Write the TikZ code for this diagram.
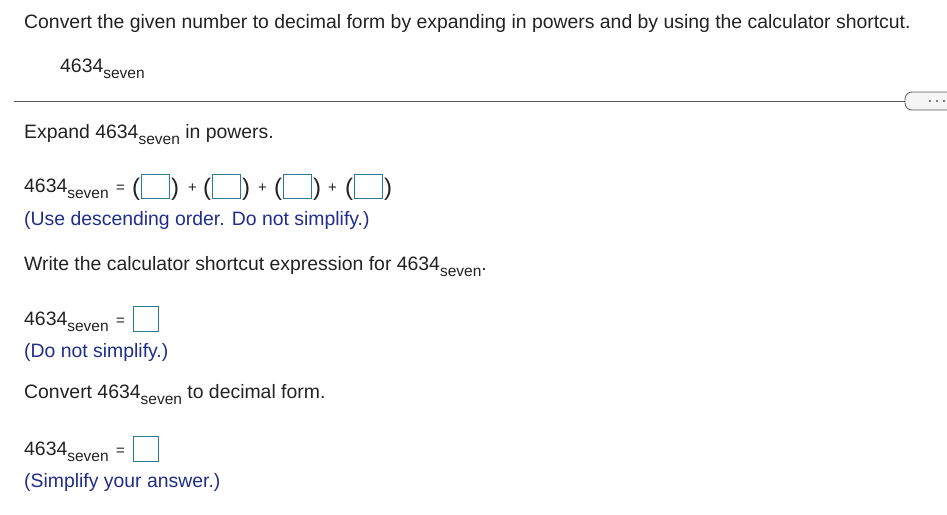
\documentclass[tikz,border=0pt]{standalone}
\usepackage{fontspec}
\setmainfont{Liberation Sans}
\newcommand{\sv}{\raisebox{-6pt}{\fontsize{15.5}{17}\selectfont seven}}
\definecolor{txt}{HTML}{222222}
\definecolor{ins}{HTML}{1F2D8C}
\definecolor{bx}{HTML}{2B7A95}
\begin{document}
\begin{tikzpicture}[x=1pt,y=-1pt,
  t/.style={anchor=base west,inner sep=0pt,text=txt,font=\fontsize{19.4}{22}\selectfont},
  ti/.style={t,text=ins},
  eqs/.style={t,font=\fontsize{15}{17}\selectfont},
  ab/.style={draw=bx,line width=0.9pt,fill=white}]
\useasboundingbox (0,0) rectangle (947,514);
\node[t] (q) at (24,28) {Convert the given number to decimal form by expanding in powers and by using the calculator shortcut.};
\node[t] (n) at (60,72) {4634\sv};
\draw[color=gray!70!black,line width=0.8pt] (14,101) -- (905,101);
\draw[color=gray!70!black,fill=gray!8,line width=0.8pt,rounded corners=7pt] (905,92) rectangle (960,110);
\foreach \xx in {930,937,944} \fill[gray!70!black] (\xx,101) circle (1.2);
\node[t] (e) at (24,138) {Expand 4634\sv\ in powers.};
\node[t] (eq) at (24,192) {4634\sv};
\node[eqs] (eqe) at (116,192) {=};
\foreach \bx/\nm in {141/a,212/b,283/c,354/d}{
  \draw[ab] (\bx,174) rectangle ++(28,24);
  \node[t,font=\fontsize{24}{26}\selectfont] (l\nm) at (\bx-9,195) {(};
  \node[t,font=\fontsize{24}{26}\selectfont] (r\nm) at (\bx+30,195) {)};
}
\foreach \px/\nm in {188/p,258/q,328/r}
  \node[eqs] (\nm) at (\px,192) {+};
\node[ti] (u) at (24,225) {(Use descending order. Do not simplify.)};
\node[t] (w) at (24,270) {Write the calculator shortcut expression for 4634\sv.};
\node[t] (s1) at (24,325) {4634\sv};
\node[eqs] (s1e) at (116,325) {=};
\draw[ab] (133,306) rectangle (158,331);
\node[ti] (d) at (24,357) {(Do not simplify.)};
\node[t] (c) at (24,398) {Convert 4634\sv\ to decimal form.};
\node[t] (s2) at (24,455) {4634\sv};
\node[eqs] (s2e) at (116,455) {=};
\draw[ab] (133,436) rectangle (158,461);
\node[ti] (sy) at (24,487) {(Simplify your answer.)};
\end{tikzpicture}
\end{document}
